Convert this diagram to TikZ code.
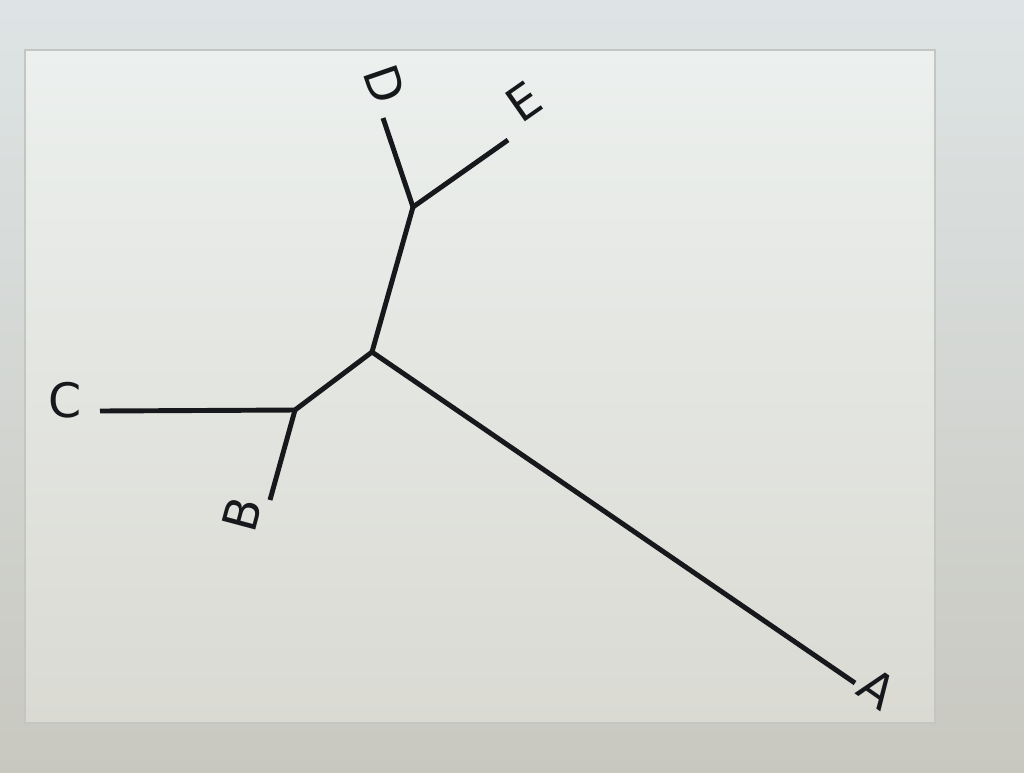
\documentclass[tikz,border=0pt]{standalone}
\usepackage{fontspec}
\setmainfont{DejaVu Sans}
\definecolor{bgtop}{RGB}{222,228,229}
\definecolor{bgbot}{RGB}{200,200,192}
\definecolor{papertop}{RGB}{236,240,238}
\definecolor{paperbot}{RGB}{218,218,211}
\definecolor{paperedge}{RGB}{196,198,194}
\definecolor{ink}{RGB}{22,24,28}
\begin{document}
\begin{tikzpicture}[x=0.01cm, y=-0.01cm, line width=1.4pt,
  lbl/.style={inner sep=0pt, text=ink, font=\fontsize{13.5}{16}\selectfont}]
\useasboundingbox (0,0) rectangle (1024,772);
\shade[top color=bgtop, bottom color=bgbot] (0,0) rectangle (1024,772);
\shade[top color=papertop, bottom color=paperbot, draw=paperedge, line width=0.5pt]
  (25,50) rectangle (935,723);

% inner nodes
\coordinate (u) at (413,207);
\coordinate (v) at (372,352);
\coordinate (w) at (295,410);
% leaf ends
\coordinate (a) at (855,683);
\coordinate (b) at (270,500);
\coordinate (c) at (100,411);
\coordinate (d) at (383,118);
\coordinate (e) at (508,140);

\draw[ink] (u)--(d);
\draw[ink] (u)--(e);
\draw[ink] (u)--(v);
\draw[ink] (v)--(w);
\draw[ink] (v)--(a);
\draw[ink] (w)--(c);
\draw[ink] (w)--(b);

\node[lbl] (la) at (878,689) [rotate=-35] {A};
\node[lbl] (lb) at (242,514) [rotate=75] {B};
\node[lbl] (lc) at (65,400) {C};
\node[lbl] (ld) at (385,84) [rotate=-71] {D};
\node[lbl] (le) at (524,102) [rotate=35] {E};

\end{tikzpicture}
\end{document}
